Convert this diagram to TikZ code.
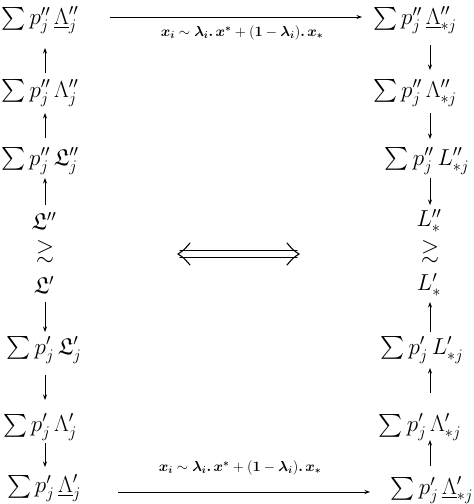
\RequirePackage{fix-cm}
\documentclass[tikz,border=0pt]{standalone}
\usepackage{amsmath,amssymb,bm}
\usepackage{exscale}
\usetikzlibrary{arrows.meta,calc}
\tikzset{
  lbl/.style={inner sep=0pt, scale=1.1, font=\fontsize{21}{24}\selectfont},
  captxt/.style={inner sep=0pt, font=\fontsize{14.5}{17}\selectfont},
  ar/.style={-{Stealth[length=5.5pt,width=4pt]}, line width=0.65pt},
  dline/.style={line width=1.1pt, line cap=round}
}
\newcommand{\lab}{$\bm{x}_{\bm{i}} \sim \bm{\lambda}_{\bm{i}}{\bm .}\,\bm{x}^{\bm *} + (\bm 1 - \bm{\lambda}_{\bm i}){\bm .}\,\bm{x}_{\bm *}$}
\begin{document}
\begin{tikzpicture}[x=1pt,y=-1pt]
\useasboundingbox (0,0) rectangle (474,504);
% left column
\coordinate (lx) at (45,0);
\node[lbl] (L1) at (40,20) {$\sum p''_j\,\underline{\Lambda}''_j$};
\node[lbl] (L2) at (40,93) {$\sum p''_j\,\Lambda''_j$};
\node[lbl] (L3) at (40,161) {$\sum p''_j\,\mathfrak{L}''_j$};
\node[lbl] (L4) at (44,221) {$\mathfrak{L}''$};
\node[lbl] (L5) at (45,252) {$\gtrsim$};
\node[lbl] (L6) at (44,285) {$\mathfrak{L}'$};
\node[lbl] (L7) at (44,350) {$\sum p'_j\,\mathfrak{L}'_j$};
\node[lbl] (L8) at (40,427) {$\sum p'_j\,\Lambda'_j$};
\node[lbl] (L9) at (44,488) {$\sum p'_j\,\underline{\Lambda}'_j$};
% right column
\coordinate (rx) at (430,0);
\node[lbl] (R1) at (415,20) {$\sum p''_j\,\underline{\Lambda}''_{*j}$};
\node[lbl] (R2) at (415,93) {$\sum p''_j\,\Lambda''_{*j}$};
\node[lbl] (R3) at (427,161) {$\sum p''_j\,L''_{*j}$};
\node[lbl] (R4) at (429,221) {$L''_*$};
\node[lbl] (R5) at (430,252) {$\gtrsim$};
\node[lbl] (R6) at (429,285) {$L'_*$};
\node[lbl] (R7) at (422,350) {$\sum p'_j\,L'_{*j}$};
\node[lbl] (R8) at (420,427) {$\sum p'_j\,\Lambda'_{*j}$};
\node[lbl] (R9) at (432,490) {$\sum p'_j\,\underline{\Lambda}'_{*j}$};
% captions
\node[captxt] (C1) at (242,33) {\lab};
\node[captxt] (C2) at (240,468) {\lab};
% centre double arrow
\coordinate (D1) at (178,254);
\coordinate (D2) at (299,254);
\draw[dline] ($(D1)+(2,-3.8)$) -- ($(D2)+(-2,-3.8)$);
\draw[dline] ($(D1)+(2,3.8)$) -- ($(D2)+(-2,3.8)$);
\draw[dline] ($(D1)+(12,-11)$) .. controls ($(D1)+(6,-4)$) .. (D1) .. controls ($(D1)+(6,4)$) .. ($(D1)+(12,11)$);
\draw[dline] ($(D2)+(-12,-11)$) .. controls ($(D2)+(-6,-4)$) .. (D2) .. controls ($(D2)+(-6,4)$) .. ($(D2)+(-12,11)$);
% horizontal arrows
\draw[ar] ($(L1.center)+(70,-3)$) -- ($(R1.center)+(-53,-3)$);
\draw[ar] ($(L9.center)+(74,4)$) -- ($(R9.center)+(-62,2)$);
% left vertical arrows
\draw[ar] ($(L2.center -| lx)+(0,-20)$) -- ($(L1.center -| lx)+(0,28)$);
\draw[ar] ($(L3.center -| lx)+(0,-23)$) -- ($(L2.center -| lx)+(0,20)$);
\draw[ar] ($(L4.center -| lx)+(0,-16)$) -- ($(L3.center -| lx)+(0,17)$);
\draw[ar] ($(L6.center -| lx)+(0,17)$) -- ($(L7.center -| lx)+(0,-18)$);
\draw[ar] ($(L7.center -| lx)+(0,25)$) -- ($(L8.center -| lx)+(0,-27)$);
\draw[ar] ($(L8.center -| lx)+(0,16)$) -- ($(L9.center -| lx)+(0,-21)$);
% right vertical arrows
\draw[ar] ($(R1.center -| rx)+(0,25)$) -- ($(R2.center -| rx)+(0,-23)$);
\draw[ar] ($(R2.center -| rx)+(0,20)$) -- ($(R3.center -| rx)+(0,-22)$);
\draw[ar] ($(R3.center -| rx)+(0,17)$) -- ($(R4.center -| rx)+(0,-16)$);
\draw[ar] ($(R7.center -| rx)+(0,-18)$) -- ($(R6.center -| rx)+(0,17)$);
\draw[ar] ($(R8.center -| rx)+(0,-34)$) -- ($(R7.center -| rx)+(0,18)$);
\draw[ar] ($(R9.center -| rx)+(0,-24)$) -- ($(R8.center -| rx)+(0,13)$);
\end{tikzpicture}
\end{document}
